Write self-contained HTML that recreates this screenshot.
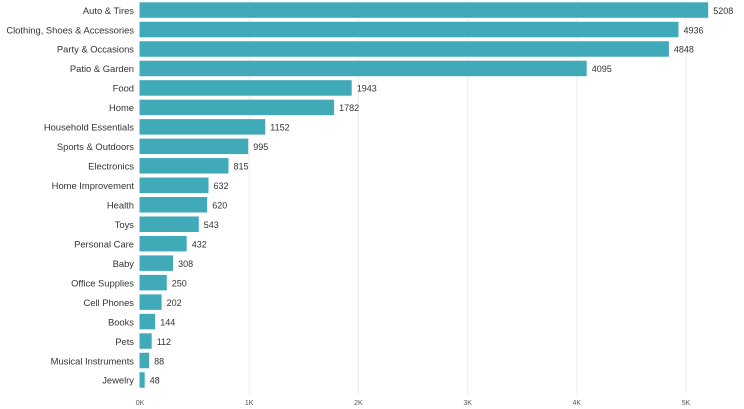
<!DOCTYPE html>
<html><head><meta charset="utf-8"><style>
html,body{margin:0;padding:0;background:#fff;width:744px;height:409px;overflow:hidden}
svg text{font-family:"Liberation Sans",sans-serif}
</style></head><body>
<svg width="744" height="409" xmlns="http://www.w3.org/2000/svg">
<g stroke="#ececec" stroke-width="1">
<line x1="249.2" y1="0" x2="249.2" y2="394"/><line x1="358.4" y1="0" x2="358.4" y2="394"/>
<line x1="467.6" y1="0" x2="467.6" y2="394"/><line x1="576.8" y1="0" x2="576.8" y2="394"/>
<line x1="686" y1="0" x2="686" y2="394"/>
</g>
<g font-size="7" fill="#555" text-anchor="middle">
<text x="140" y="405">0K</text><text x="249.2" y="405">1K</text><text x="358.4" y="405">2K</text>
<text x="467.6" y="405">3K</text><text x="576.8" y="405">4K</text><text x="686" y="405">5K</text>
</g>
<g fill="#41aab9">
<rect x="139.5" y="2.3" width="568.7" height="15.5"/>
<rect x="139.5" y="21.77" width="539.0" height="15.5"/>
<rect x="139.5" y="41.24" width="529.4" height="15.5"/>
<rect x="139.5" y="60.71" width="447.2" height="15.5"/>
<rect x="139.5" y="80.18" width="212.2" height="15.5"/>
<rect x="139.5" y="99.65" width="194.6" height="15.5"/>
<rect x="139.5" y="119.12" width="125.8" height="15.5"/>
<rect x="139.5" y="138.59" width="108.7" height="15.5"/>
<rect x="139.5" y="158.06" width="89.0" height="15.5"/>
<rect x="139.5" y="177.53" width="69.0" height="15.5"/>
<rect x="139.5" y="197.0" width="67.7" height="15.5"/>
<rect x="139.5" y="216.47" width="59.3" height="15.5"/>
<rect x="139.5" y="235.94" width="47.2" height="15.5"/>
<rect x="139.5" y="255.41" width="33.6" height="15.5"/>
<rect x="139.5" y="274.88" width="27.3" height="15.5"/>
<rect x="139.5" y="294.35" width="22.1" height="15.5"/>
<rect x="139.5" y="313.82" width="15.7" height="15.5"/>
<rect x="139.5" y="333.29" width="12.2" height="15.5"/>
<rect x="139.5" y="352.76" width="9.6" height="15.5"/>
<rect x="139.5" y="372.23" width="5.2" height="15.5"/>
</g>
<g font-size="9.4" fill="#333" text-anchor="end">
<text x="134" y="13.8">Auto &amp; Tires</text>
<text x="134" y="33.27">Clothing, Shoes &amp; Accessories</text>
<text x="134" y="52.74">Party &amp; Occasions</text>
<text x="134" y="72.21">Patio &amp; Garden</text>
<text x="134" y="91.68">Food</text>
<text x="134" y="111.15">Home</text>
<text x="134" y="130.62">Household Essentials</text>
<text x="134" y="150.09">Sports &amp; Outdoors</text>
<text x="134" y="169.56">Electronics</text>
<text x="134" y="189.03">Home Improvement</text>
<text x="134" y="208.5">Health</text>
<text x="134" y="227.97">Toys</text>
<text x="134" y="247.44">Personal Care</text>
<text x="134" y="266.91">Baby</text>
<text x="134" y="286.38">Office Supplies</text>
<text x="134" y="305.85">Cell Phones</text>
<text x="134" y="325.32">Books</text>
<text x="134" y="344.79">Pets</text>
<text x="134" y="364.26">Musical Instruments</text>
<text x="134" y="383.73">Jewelry</text>
</g>
<g font-size="9" fill="#333">
<text x="713.2" y="13.8">5208</text>
<text x="683.5" y="33.27">4936</text>
<text x="673.9" y="52.74">4848</text>
<text x="591.7" y="72.21">4095</text>
<text x="356.7" y="91.68">1943</text>
<text x="339.1" y="111.15">1782</text>
<text x="270.3" y="130.62">1152</text>
<text x="253.2" y="150.09">995</text>
<text x="233.5" y="169.56">815</text>
<text x="213.5" y="189.03">632</text>
<text x="212.2" y="208.5">620</text>
<text x="203.8" y="227.97">543</text>
<text x="191.7" y="247.44">432</text>
<text x="178.1" y="266.91">308</text>
<text x="171.8" y="286.38">250</text>
<text x="166.6" y="305.85">202</text>
<text x="160.2" y="325.32">144</text>
<text x="156.7" y="344.79">112</text>
<text x="154.1" y="364.26">88</text>
<text x="149.7" y="383.73">48</text>
</g>
</svg>
</body></html>
